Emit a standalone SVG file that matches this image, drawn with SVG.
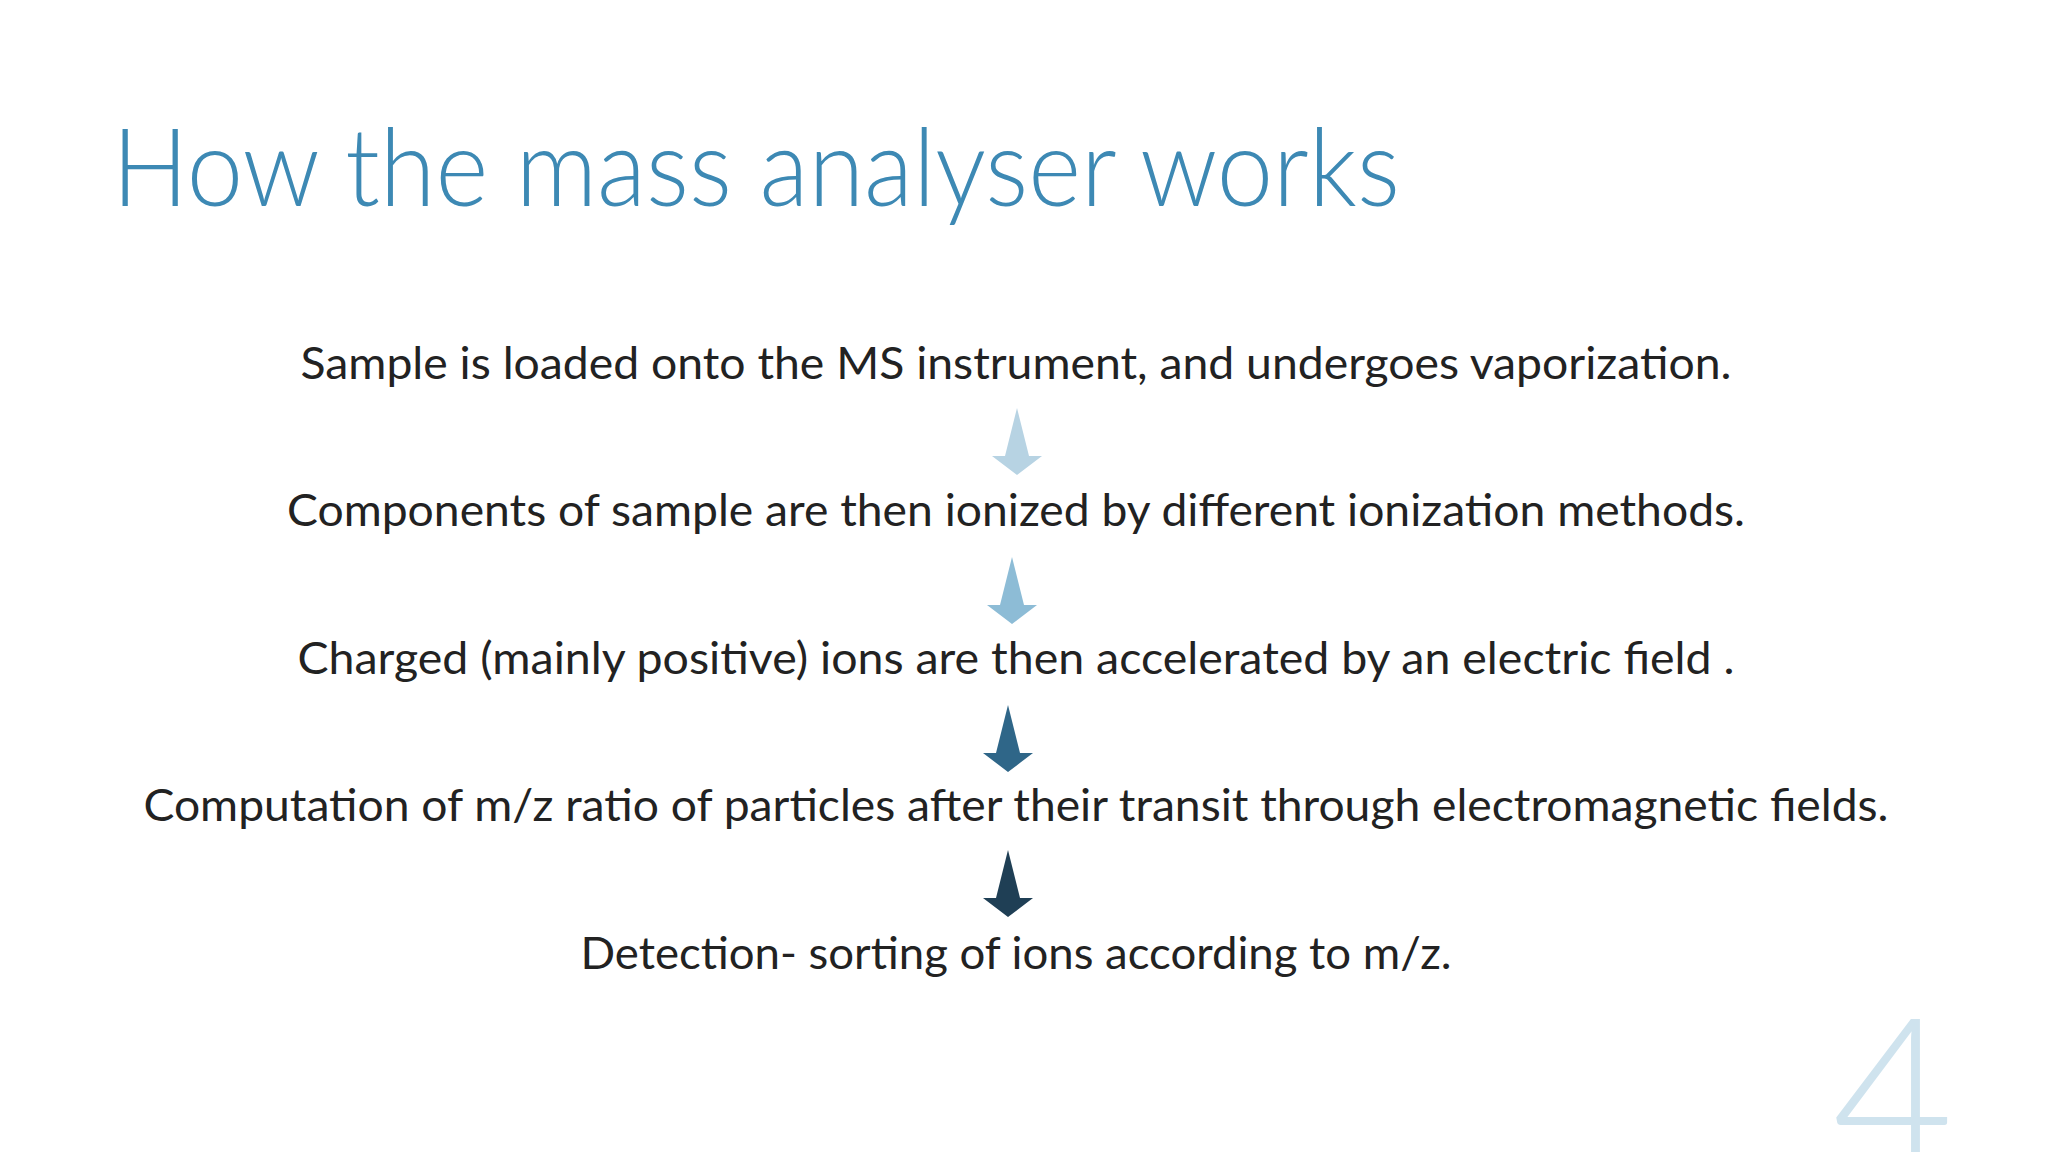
<svg xmlns="http://www.w3.org/2000/svg" width="2048" height="1152" viewBox="0 0 2048 1152">
<style>
.t{font-family:Lato,"Open Sans","Liberation Sans",sans-serif;font-size:44px;fill:#222;text-anchor:middle}
</style>
<defs><path id="arr" d="M0,0 L12,48 L25,48 L0,67 L-25,48 L-12,48 Z"/></defs>
<rect width="2048" height="1152" fill="#fff"/>
<text x="112" y="206" font-family="Lato,'Open Sans','Liberation Sans',sans-serif" font-weight="300" font-size="108" fill="#3d89b4" textLength="1288" lengthAdjust="spacingAndGlyphs">How the mass analyser works</text>
<g id="n1"><text class="t" x="1016" y="379" textLength="1431" lengthAdjust="spacingAndGlyphs">Sample is loaded onto the MS instrument, and undergoes vaporization.</text></g>
<g id="n2"><text class="t" x="1016" y="526" textLength="1458" lengthAdjust="spacingAndGlyphs">Components of sample are then ionized by different ionization methods.</text></g>
<g id="n3"><text class="t" x="1016" y="674" textLength="1437" lengthAdjust="spacingAndGlyphs">Charged (mainly positive) ions are then accelerated by an electric field .</text></g>
<g id="n4"><text class="t" x="1016" y="821" textLength="1745" lengthAdjust="spacingAndGlyphs">Computation of m/z ratio of particles after their transit through electromagnetic fields.</text></g>
<g id="n5"><text class="t" x="1016" y="969" textLength="871" lengthAdjust="spacingAndGlyphs">Detection- sorting of ions according to m/z.</text></g>
<g id="connectors">
<use href="#arr" transform="translate(1017,408)" fill="#b7d3e3"/>
<use href="#arr" transform="translate(1012,557)" fill="#8dbcd6"/>
<use href="#arr" transform="translate(1008,705)" fill="#2f6688"/>
<use href="#arr" transform="translate(1008,850)" fill="#1f3f55"/>
</g>
<text x="1893" y="1168" font-family="Lato,'Open Sans','Liberation Sans',sans-serif" font-weight="300" font-size="210" fill="#cfe3ee" text-anchor="middle">4</text>
</svg>
